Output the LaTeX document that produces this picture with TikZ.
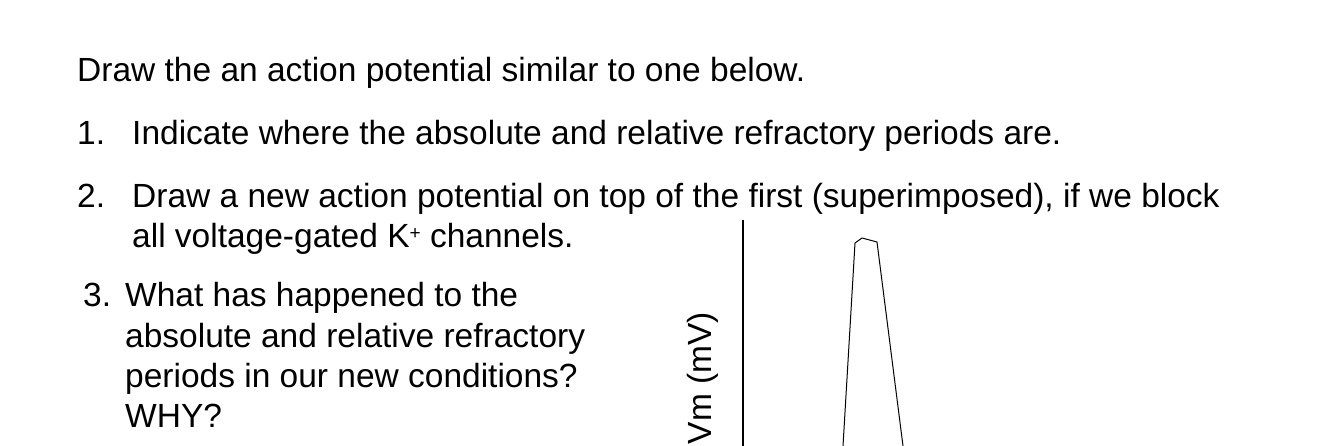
\documentclass[tikz,border=0pt]{standalone}
\usepackage{fontspec}
\setmainfont{Liberation Sans}
\begin{document}
\begin{tikzpicture}[x=1pt,y=-1pt,txt/.style={anchor=base west,inner sep=0pt,font=\fontsize{33.5}{38}\selectfont}]
\useasboundingbox (0,0) rectangle (1333,446);
\node[txt] (t0) at (77,82) {Draw the an action potential similar to one below.};
\node[txt] (n1) at (77,145) {1.};
\node[txt] (t1) at (132,145) {Indicate where the absolute and relative refractory periods are.};
\node[txt] (n2) at (77,208) {2.};
\node[txt] (t2) at (132,208) {Draw a new action potential on top of the first (superimposed), if we block};
\node[txt] (t2b) at (132,248) {all voltage-gated K\raisebox{0.5ex}{\fontsize{19}{19}\selectfont +} channels.};
\node[txt] (n3) at (83,307) {3.};
\node[txt] (t3) at (125,307) {What has happened to the};
\node[txt] (t3b) at (125,347) {absolute and relative refractory};
\node[txt] (t3c) at (125,387) {periods in our new conditions?};
\node[txt] (t3d) at (125,427) {WHY?};
\draw[line width=2pt] (743,220) coordinate (ytop) -- (743,446) coordinate (ybot);
\node[rotate=90,anchor=base east,inner sep=0pt,font=\fontsize{33.5}{38}\selectfont] (yl) at (711,312) {Vm (mV)};
\draw[line width=1pt,line join=round] (843,446) coordinate (a) -- (855,243) -- (862,238) -- (877,242) -- (903,446) coordinate (b);
\end{tikzpicture}
\end{document}
